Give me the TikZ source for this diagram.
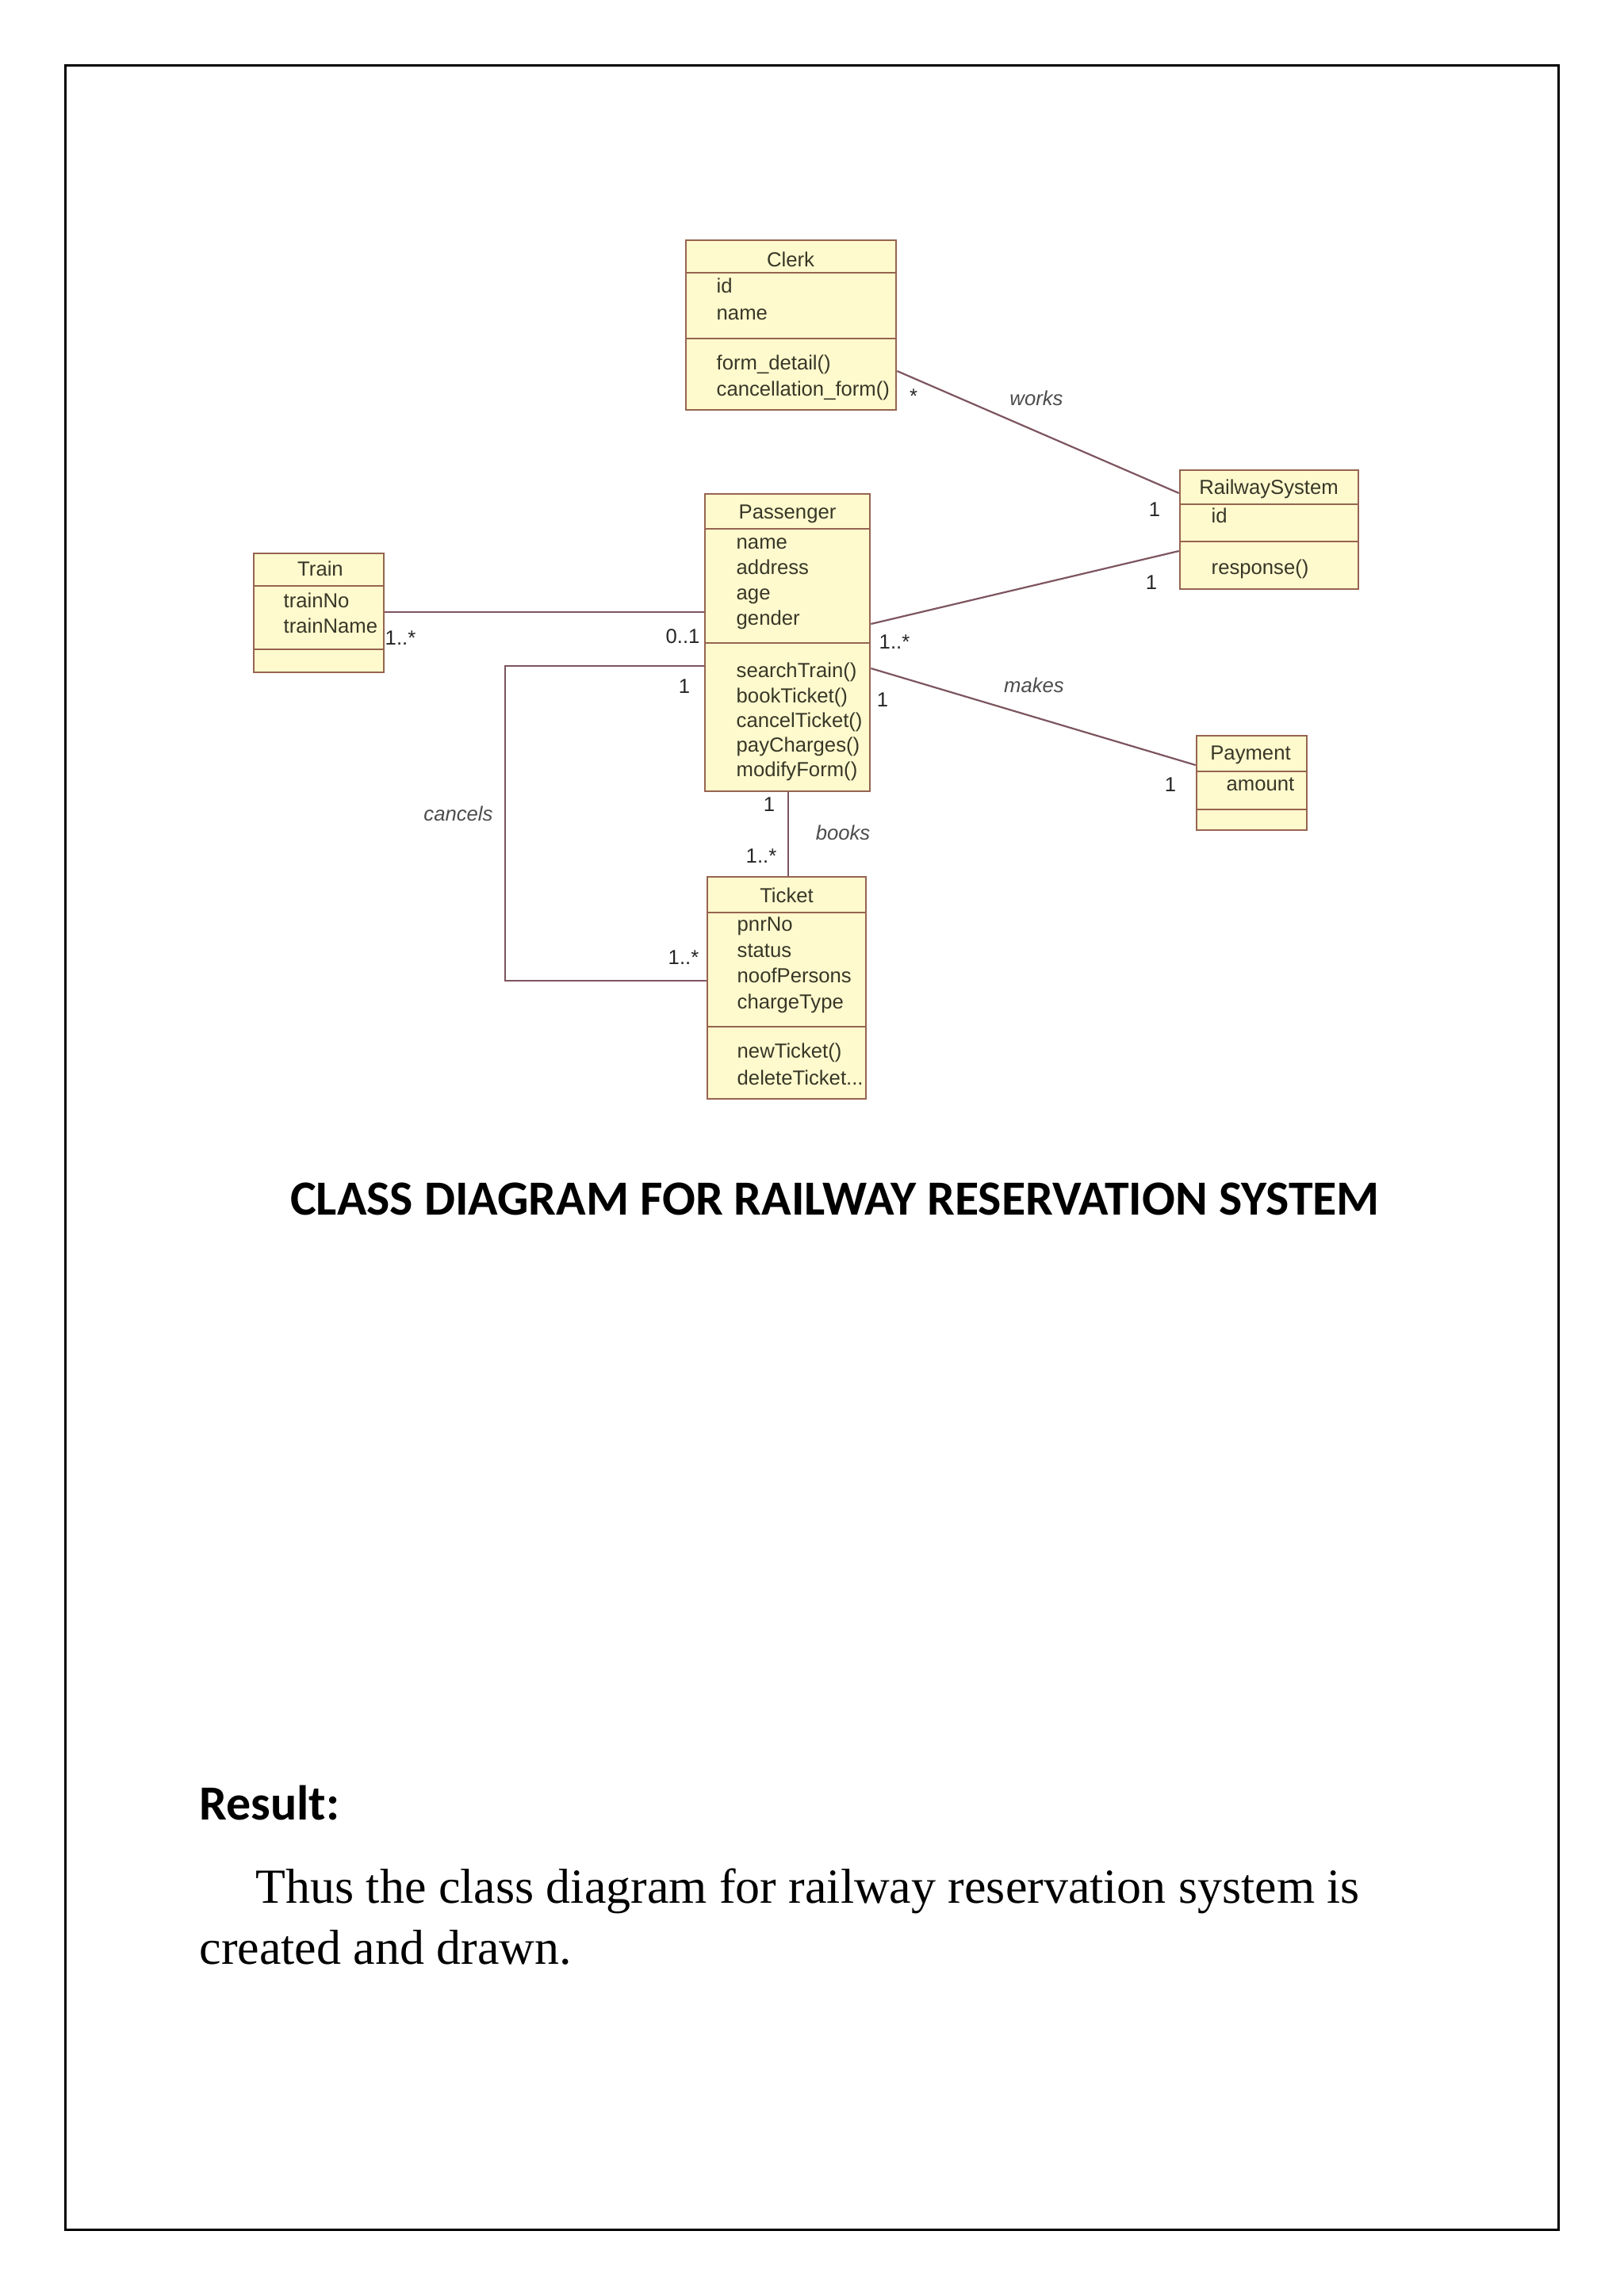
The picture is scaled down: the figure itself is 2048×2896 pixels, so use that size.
\documentclass[tikz,border=0pt]{standalone}
\usepackage{fontspec}
\setmainfont{Liberation Serif}
\setsansfont{Liberation Sans}
\newfontfamily\titlefont{Carlito}
\usetikzlibrary{positioning, calc}

\definecolor{colorFill}{RGB}{255, 250, 205}
\definecolor{colorBorder}{RGB}{150, 100, 80}
\definecolor{colorLine}{RGB}{125, 85, 95}
\definecolor{colorText}{RGB}{55, 55, 40}

\tikzstyle{classbox} = [rectangle, draw=colorBorder, fill=colorFill, line width=0.25mm, inner sep=0pt]
\tikzstyle{divider} = [draw=colorBorder, line width=0.25mm]
\tikzstyle{member} = [anchor=west, inner sep=0pt, text height=1.9mm, text depth=0.55mm, text=colorText, font=\sffamily\fontsize{7.3}{8.8}\selectfont]
\tikzstyle{classname} = [member, anchor=center]
\tikzstyle{mult} = [member, anchor=center, text=black!85]
\tikzstyle{assoc} = [member, anchor=center, text=black!70, font=\sffamily\itshape\fontsize{7.3}{8.8}\selectfont]
\tikzstyle{link} = [draw=colorLine, line width=0.22mm]
\tikzstyle{heading} = [inner sep=0pt, font=\titlefont\bfseries\fontsize{17.6}{20}\selectfont]
\tikzstyle{body} = [inner sep=0pt, anchor=base west, font=\fontsize{17.6}{22}\selectfont]

\begin{document}
\begin{tikzpicture}[x=0.01cm, y=-0.01cm]

	\useasboundingbox (0,0) rectangle (2048,2896);

	% page frame
	\draw[line width=0.03cm] (82,82) rectangle (1965,2812);

	% Clerk
	\node (clerk)[classbox, minimum width=2.65cm, minimum height=2.14cm] at (997.5,410) {};
	\draw[divider] (clerk.west |- 0,344) -- (clerk.east |- 0,344);
	\draw[divider] (clerk.west |- 0,427) -- (clerk.east |- 0,427);
	\node (clerkName)[classname] at (997,330) {Clerk};
	\foreach \m [count=\i] in {id, name}
		\node (clerkA\i)[member] at (903, 329+34*\i) {\m};
	\foreach \m [count=\i] in {form\_detail(), cancellation\_form()}
		\node (clerkM\i)[member] at (903, 427+33*\i) {\m};

	% RailwaySystem
	\node (rail)[classbox, minimum width=2.25cm, minimum height=1.50cm] at (1600.5,668) {};
	\draw[divider] (rail.west |- 0,636) -- (rail.east |- 0,636);
	\draw[divider] (rail.west |- 0,683) -- (rail.east |- 0,683);
	\node (railName)[classname] at (1600,617) {RailwaySystem};
	\node (railA1)[member] at (1527,653) {id};
	\node (railM1)[member] at (1527,718) {response()};

	% Train
	\node (train)[classbox, minimum width=1.64cm, minimum height=1.50cm] at (402,773) {};
	\draw[divider] (train.west |- 0,739) -- (train.east |- 0,739);
	\draw[divider] (train.west |- 0,819) -- (train.east |- 0,819);
	\node (trainName)[classname] at (404,720) {Train};
	\foreach \m [count=\i] in {trainNo, trainName}
		\node (trainA\i)[member] at (357, 728+32*\i) {\m};

	% Passenger
	\node (passenger)[classbox, minimum width=2.08cm, minimum height=3.75cm] at (993,810.5) {};
	\draw[divider] (passenger.west |- 0,667) -- (passenger.east |- 0,667);
	\draw[divider] (passenger.west |- 0,811) -- (passenger.east |- 0,811);
	\node (passengerName)[classname] at (993,648) {Passenger};
	\foreach \m [count=\i] in {name, address, age, gender}
		\node (passengerA\i)[member] at (928, 653+32.3*\i) {\m};
	\foreach \m [count=\i] in {searchTrain(), bookTicket(), cancelTicket(), payCharges(), modifyForm()}
		\node (passengerM\i)[member] at (928, 817+31.2*\i) {\m};

	% Ticket
	\node (ticket)[classbox, minimum width=2.00cm, minimum height=2.80cm] at (992,1246) {};
	\draw[divider] (ticket.west |- 0,1151) -- (ticket.east |- 0,1151);
	\draw[divider] (ticket.west |- 0,1295) -- (ticket.east |- 0,1295);
	\node (ticketName)[classname] at (992,1132) {Ticket};
	\foreach \m [count=\i] in {pnrNo, status, noofPersons, chargeType}
		\node (ticketA\i)[member] at (929, 1135+32.7*\i) {\m};
	\node (ticketM1)[member] at (929,1328) {newTicket()};
	\node (ticketM2)[member] at (929,1362) {deleteTicket...};

	% Payment
	\node (payment)[classbox, minimum width=1.39cm, minimum height=1.19cm] at (1578.5,987.5) {};
	\draw[divider] (payment.west |- 0,973) -- (payment.east |- 0,973);
	\draw[divider] (payment.west |- 0,1021) -- (payment.east |- 0,1021);
	\node (paymentName)[classname] at (1577,952) {Payment};
	\node (paymentA1)[member] at (1546,991) {amount};

	% bends of the cancels line
	\coordinate (cancelTop) at (637,840);
	\coordinate (cancelBot) at (637,1237);

	% associations
	\draw[link] (clerk.east |- 0,468) -- (rail.west |- 0,622);
	\draw[link] (passenger.east |- 0,787) -- (rail.west |- 0,695);
	\draw[link] (train.east |- 0,772) -- (passenger.west |- 0,772);
	\draw[link] (passenger.east |- 0,843) -- (payment.west |- 0,965);
	\draw[link] (passenger.south -| 994,0) -- (ticket.north -| 994,0);
	\draw[link] (passenger.west |- cancelTop) -- (cancelTop) -- (cancelBot) -- (ticket.west |- cancelBot);

	% association names
	\node (lblWorks)[assoc] at (1307,505) {works};
	\node (lblMakes)[assoc] at (1304,867) {makes};
	\node (lblBooks)[assoc] at (1063,1053) {books};
	\node (lblCancels)[assoc] at (578,1029) {cancels};

	% multiplicities
	\node (mClerk)[mult] at (1152,502) {*};
	\node (mRailClerk)[mult] at (1456,645) {1};
	\node (mPassRail)[mult] at (1128,812) {1..*};
	\node (mRailPass)[mult] at (1452,737) {1};
	\node (mTrain)[mult] at (505,807) {1..*};
	\node (mPassTrain)[mult] at (861,805) {0..1};
	\node (mPassPay)[mult] at (1113,885) {1};
	\node (mPay)[mult] at (1476,992) {1};
	\node (mPassBook)[mult] at (970,1017) {1};
	\node (mTicketBook)[mult] at (960,1082) {1..*};
	\node (mPassCancel)[mult] at (863,868) {1};
	\node (mTicketCancel)[mult] at (862,1210) {1..*};

	% caption and result
	\node (title)[heading] at (1053,1512) {CLASS DIAGRAM FOR RAILWAY RESERVATION SYSTEM};
	\node (result)[heading, anchor=base west] at (251,2295) {Result:};
	\node (resultLine1)[body] at (322,2400) {Thus the class diagram for railway reservation system is};
	\node (resultLine2)[body] at (251,2477) {created and drawn.};

\end{tikzpicture}
\end{document}
